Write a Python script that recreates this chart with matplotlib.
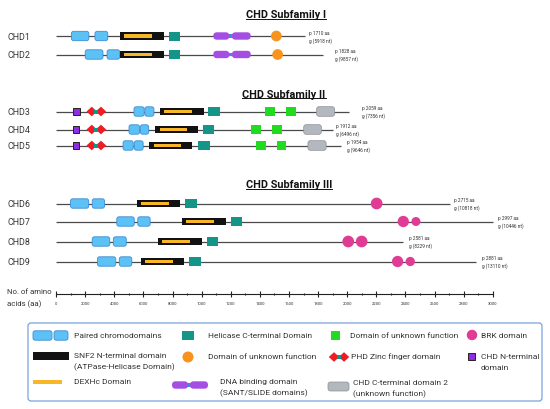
"""CHD family domain architecture drawn on an amino-acid scale."""

import matplotlib

matplotlib.use("Agg")
from matplotlib import pyplot as plt
from matplotlib.patches import Ellipse, FancyBboxPatch, Polygon, Rectangle

plt.rcParams["font.family"] = ["Roboto", "DejaVu Sans"]

# ---- values (aa positions) ----
PROTEINS = ["CHD1", "CHD2", "CHD3", "CHD4", "CHD5", "CHD6", "CHD7", "CHD8", "CHD9"]
PROTEIN_AA = [1710, 1828, 2059, 1912, 1954, 2715, 2997, 2581, 2881]
GENE_NT = [5918, 9857, 7356, 6496, 9646, 10818, 10446, 8229, 13110]
# where each backbone line actually stops
LINE_END = [1710, 1831, 2012, 1902, 1957, 2706, 3003, 2383, 2882]

CHROMO_1 = [(105, 225), (200, 322), (535, 605), (501, 573), (460, 530),
            (99, 224), (417, 537), (248, 369), (284, 410)]
CHROMO_2 = [(267, 355), (350, 437), (610, 672), (578, 636), (537, 598),
            (248, 333), (561, 646), (393, 482), (434, 520)]
SNF2 = [(437, 740), (437, 740), (711, 1014), (682, 976), (641, 935),
        (554, 853), (867, 1164), (699, 1002), (581, 882)]
DEXHC = [(468, 661), (468, 661), (742, 935), (713, 899), (670, 858),
         (586, 778), (894, 1084), (730, 923), (612, 805)]
HELICASE_C = [(774, 851), (774, 851), (1046, 1128), (1007, 1084), (976, 1055),
              (887, 966), (1200, 1277), (1036, 1113), (916, 995)]

# subfamily I (CHD1, CHD2)
SANT = [(1080, 1190), (1080, 1190)]
SLIDE = [(1208, 1337), (1208, 1337)]
DUF_ORANGE = [1513, 1522]

# subfamily II (CHD3-CHD5)
CHD_NTERM = [140, 137, 137]
PHD_FINGERS = [(245, 308), (245, 308), (245, 308)]
DUF_GREEN = [[(1436, 1504), (1581, 1651)],
             [(1340, 1410), (1484, 1549)],
             [(1376, 1441), (1518, 1581)]]
CTERM_2 = [(1790, 1913), (1701, 1822), (1730, 1855)]

# subfamily III (CHD6-CHD9)
BRK = [[2202], [2385, 2472], [2007, 2099], [2346, 2433]]

SCALE_TICKS = list(range(0, 3001, 200))
SCALE_MINOR = list(range(100, 3000, 200))
SCALE_LABELS = ["0", "2000", "4000", "6000", "8000", "1000", "1200", "1400",
                "1600", "1800", "2000", "2200", "2400", "2600", "2800", "3000"]

SUBFAMILIES = ["CHD Subfamily I", "CHD Subfamily II", "CHD Subfamily III"]

# ---- layout (pixels) ----
W, H = 550, 410
SCALE_X0, SCALE_X1 = 56.1, 492.8
PX_PER_AA = (SCALE_X1 - SCALE_X0) / 3000
ROW_Y = [37, 55.5, 112.5, 130.5, 146.5, 204.5, 222.5, 242.5, 262.5]
NOTE_X = [309, 335, 362, 336, 347, 454, 498, 409, 482]
TITLE_X = [286, 284, 289]
TITLE_BASE = [18.2, 97.8, 188.3]
AXIS_Y = 294.5
BRK_SIZE = [[11.7], [11.3, 9.0], [11.7, 11.7], [11.3, 9.3]]

COLORS = {
    "line": "#4a4a4a",
    "chromo": "#5cc2f6",
    "chromo_edge": "#3f8cd6",
    "snf2": "#121212",
    "dexhc": "#f8b72b",
    "helicase": "#13958a",
    "sant": "#a54ee3",
    "linker": "#3f8cd6",
    "orange": "#f7931e",
    "red": "#ee1c25",
    "green": "#1fdc1f",
    "gray": "#b3b8bf",
    "gray_edge": "#8b9199",
    "pink": "#e13c95",
    "nterm": "#8e2de2",
    "text": "#333333",
    "frame": "#78a4dc",
}


def box(ax, x0, x1, yc, h, face, xs, r=0.0, edge="none", lw=0.0, z=3):
    """Rectangle spanning x0..x1 (data x) with height h px, optional rounded corners."""
    if r > 0:
        patch = FancyBboxPatch(
            (x0, yc - h / 2), x1 - x0, h,
            boxstyle=f"round,pad=0,rounding_size={r / xs}",
            mutation_aspect=xs, facecolor=face, edgecolor=edge, linewidth=lw, zorder=z,
        )
    else:
        patch = Rectangle((x0, yc - h / 2), x1 - x0, h, facecolor=face,
                          edgecolor=edge, linewidth=lw, zorder=z)
    patch.set_clip_on(False)
    ax.add_patch(patch)


def dot(ax, x, yc, d, face, xs, z=4):
    patch = Ellipse((x, yc), d / xs, d, facecolor=face, edgecolor="none", zorder=z)
    patch.set_clip_on(False)
    ax.add_patch(patch)


def diamond(ax, x, yc, w, h, face, xs, z=4):
    dx = w / 2 / xs
    patch = Polygon([(x - dx, yc), (x, yc - h / 2), (x + dx, yc), (x, yc + h / 2)],
                    closed=True, facecolor=face, edgecolor="none", zorder=z)
    patch.set_clip_on(False)
    ax.add_patch(patch)


def phd_pair(ax, centers, yc, xs):
    for c in centers:
        diamond(ax, c, yc, 10.5, 9.6, COLORS["red"], xs)
    mid = sum(centers) / 2
    half = 2.0 / xs
    box(ax, mid - half, mid + half, yc, 4.0, COLORS["helicase"], xs, z=5)


def nterm(ax, x, yc, xs):
    half = 3.4 / xs
    box(ax, x - half, x + half, yc, 6.8, COLORS["nterm"], xs,
        edge="#222222", lw=0.7, z=4)


def dna_binding(ax, pill1, pill2, yc, xs):
    box(ax, pill1[1] - 2 / xs, pill2[0] + 2 / xs, yc, 3.6, COLORS["linker"], xs, z=3)
    for p in (pill1, pill2):
        box(ax, p[0], p[1], yc, 7.4, COLORS["sant"], xs, r=3.6, z=4)


def chromo(ax, seg, yc, xs):
    box(ax, seg[0], seg[1], yc, 9.4, COLORS["chromo"], xs, r=2.2,
        edge=COLORS["chromo_edge"], lw=0.6, z=3)


fig = plt.figure(figsize=(W / 100, H / 100), dpi=100)

page = fig.add_axes([0, 0, 1, 1])
page.set_xlim(0, W)
page.set_ylim(H, 0)
page.axis("off")

track = fig.add_axes([SCALE_X0 / W, 0, (SCALE_X1 - SCALE_X0) / W, 1])
track.set_xlim(0, 3000)
track.set_ylim(H, 0)
track.axis("off")
track.patch.set_alpha(0)

xs = PX_PER_AA
for i, name in enumerate(PROTEINS):
    y = ROW_Y[i]
    track.plot([0, LINE_END[i]], [y, y], color=COLORS["line"], linewidth=0.9,
               solid_capstyle="butt", zorder=1, clip_on=False)
    chromo(track, CHROMO_1[i], y, xs)
    chromo(track, CHROMO_2[i], y, xs)
    box(track, SNF2[i][0], SNF2[i][1], y, 7.8, COLORS["snf2"], xs, z=3)
    box(track, DEXHC[i][0], DEXHC[i][1], y, 3.7, COLORS["dexhc"], xs, z=4)
    box(track, HELICASE_C[i][0], HELICASE_C[i][1], y, 9.0, COLORS["helicase"], xs, z=3)

    page.text(7.5, y, name, ha="left", va="center", fontsize=6.4, color=COLORS["text"])
    page.text(NOTE_X[i], y - 3.8, f"p {PROTEIN_AA[i]} aa", ha="left", va="center",
              fontsize=3.4, color=COLORS["text"])
    page.text(NOTE_X[i], y + 4.0, f"g ({GENE_NT[i]} nt)", ha="left", va="center",
              fontsize=3.4, color=COLORS["text"])

for k in range(2):
    y = ROW_Y[k]
    dna_binding(track, SANT[k], SLIDE[k], y, xs)
    dot(track, DUF_ORANGE[k], y, 10.7, COLORS["orange"], xs)

for k in range(3):
    y = ROW_Y[2 + k]
    nterm(track, CHD_NTERM[k], y, xs)
    phd_pair(track, PHD_FINGERS[k], y, xs)
    for seg in DUF_GREEN[k]:
        box(track, seg[0], seg[1], y, 9.6, COLORS["green"], xs, z=3)
    box(track, CTERM_2[k][0], CTERM_2[k][1], y, 9.6, COLORS["gray"], xs, r=2.4,
        edge=COLORS["gray_edge"], lw=0.5, z=3)

for k in range(4):
    y = ROW_Y[5 + k]
    for c, d in zip(BRK[k], BRK_SIZE[k]):
        dot(track, c, y, d, COLORS["pink"], xs)

# subfamily headings, underlined
titles = [page.text(x, yb, t, ha="center", va="baseline", fontsize=7.8,
                    fontweight="bold", color="#111111")
          for x, yb, t in zip(TITLE_X, TITLE_BASE, SUBFAMILIES)]
fig.canvas.draw()
renderer = fig.canvas.get_renderer()
for t, yb in zip(titles, TITLE_BASE):
    bb = t.get_window_extent(renderer).transformed(page.transData.inverted())
    page.plot([bb.x0, bb.x1], [yb + 1.6, yb + 1.6], color="#111111", linewidth=0.7)

# amino-acid scale bar
scale = fig.add_axes([SCALE_X0 / W, 1 - AXIS_Y / H, (SCALE_X1 - SCALE_X0) / W, 0.0005])
scale.set_xlim(0, 3000)
scale.patch.set_alpha(0)
for side in ("top", "left", "right"):
    scale.spines[side].set_visible(False)
scale.spines["bottom"].set_linewidth(0.8)
scale.spines["bottom"].set_color("#222222")
scale.set_yticks([])
scale.set_xticks(SCALE_TICKS, labels=SCALE_LABELS)
scale.set_xticks(SCALE_MINOR, minor=True)
scale.tick_params(which="major", direction="inout", length=4.2, width=0.8,
                  color="#222222", labelsize=3.0, pad=3.0, labelcolor=COLORS["text"])
scale.tick_params(which="minor", direction="inout", length=2.0, width=0.8, color="#222222")
page.text(7, AXIS_Y - 2.5, "No. of amino", ha="left", va="center", fontsize=5.6,
          color=COLORS["text"])
page.text(7, AXIS_Y + 9.5, "acids (aa)", ha="left", va="center", fontsize=5.6,
          color=COLORS["text"])

# legend panel
frame = FancyBboxPatch((28, 324), 514, 78, boxstyle="round,pad=0,rounding_size=3",
                       facecolor="white", edgecolor=COLORS["frame"], linewidth=0.9, zorder=1)
page.add_patch(frame)


def legend_text(x, y, lines):
    for j, line in enumerate(lines):
        page.text(x, y + j * 10.8, line, ha="left", va="center", fontsize=6.0,
                  color=COLORS["text"], zorder=5)


chromo(page, (33, 52), 336.5, 1)
chromo(page, (54, 68), 336.5, 1)
legend_text(74, 336, ["Paired chromodomains"])
box(page, 33, 69, 357, 8, COLORS["snf2"], 1)
legend_text(74, 356, ["SNF2 N-terminal domain", "(ATPase-Helicase Domain)"])
box(page, 33, 62, 383, 3.6, COLORS["dexhc"], 1)
legend_text(74, 382.5, ["DEXHc Domain"])

box(page, 182, 194, 336.5, 9, COLORS["helicase"], 1)
legend_text(208, 336, ["Helicase C-terminal Domain"])
dot(page, 188, 358, 11, COLORS["orange"], 1)
legend_text(208, 357, ["Domain of unknown function"])
dna_binding(page, (172, 188), (190, 208), 386, 1)
legend_text(220, 382, ["DNA binding domain", "(SANT/SLIDE domains)"])

box(page, 331, 340, 336.5, 9, COLORS["green"], 1)
legend_text(350, 336, ["Domain of unknown function"])
phd_pair(page, (334, 344), 358, 1)
legend_text(351, 357, ["PHD Zinc finger domain"])
box(page, 328, 349, 387.5, 9, COLORS["gray"], 1, r=2.4, edge=COLORS["gray_edge"], lw=0.5)
legend_text(353, 383, ["CHD C-terminal domain 2", "(unknown function)"])

dot(page, 472, 336, 10.5, COLORS["pink"], 1)
legend_text(481, 336, ["BRK domain"])
nterm(page, 471.5, 357.5, 1)
legend_text(481, 357, ["CHD N-terminal", "domain"])

fig.savefig("out.png", dpi=100)
